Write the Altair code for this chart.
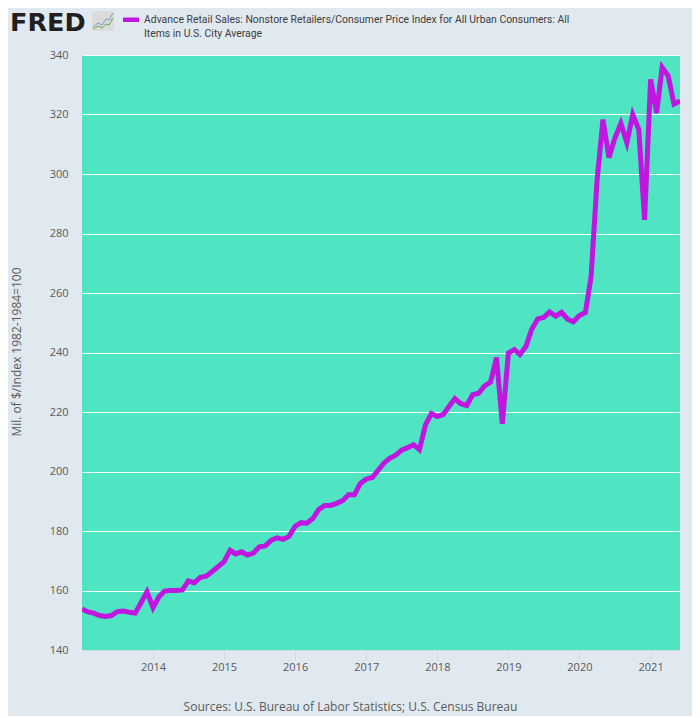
import altair as alt
import pandas as pd

start_date = "2013-01-01"
end_date = "2021-06-01"
values = [
    153.8, 152.8, 152.4, 151.6, 151.3, 151.6, 152.9, 153.1, 152.7, 152.4, 156.0, 159.6,
    154.2, 158.0, 159.8, 160.0, 160.0, 160.2, 163.2, 162.6, 164.4, 164.8, 166.4, 168.0,
    169.7, 173.5, 172.3, 173.0, 171.9, 172.6, 174.7, 175.0, 176.9, 177.7, 177.2, 178.2,
    181.6, 182.8, 182.6, 184.2, 187.2, 188.6, 188.6, 189.3, 190.2, 192.2, 192.2, 196.0,
    197.5, 198.0, 200.3, 202.8, 204.4, 205.5, 207.2, 208.0, 209.0, 207.3, 215.7, 219.5,
    218.5, 219.2, 221.8, 224.5, 222.8, 222.2, 225.8, 226.3, 228.8, 230.0, 238.3, 216.0,
    239.8, 241.0, 239.3, 242.0, 247.8, 251.3, 251.8, 253.6, 252.2, 253.5, 251.2, 250.3,
    252.4, 253.5, 265.5, 298.0, 318.3, 305.5, 312.0, 317.0, 310.5, 320.0, 315.0, 284.6,
    331.8, 320.5, 335.8, 333.0, 323.5, 324.5,
]
x_ticks = ["2014-01-01", "2015-01-01", "2016-01-01", "2017-01-01", "2018-01-01",
           "2019-01-01", "2020-01-01", "2021-01-01"]
y_ticks = [140, 160, 180, 200, 220, 240, 260, 280, 300, 320, 340]
legend_lines = [
    "Advance Retail Sales: Nonstore Retailers/Consumer Price Index for All Urban Consumers: All",
    "Items in U.S. City Average",
]
y_title = "Mil. of $/Index 1982-1984=100"
source = "Sources: U.S. Bureau of Labor Statistics; U.S. Census Bureau"
logo = "FRED"

BG = "#e1e9f0"
PLOT = "#50e5c2"
LINE = "#c115e0"
TXT = "#595959"
W, H = 598, 595

df = pd.DataFrame({"date": pd.date_range(start_date, periods=len(values), freq="MS"), "value": values})

x = alt.X("date:T", scale=alt.Scale(domain=[start_date, end_date], nice=False),
          axis=alt.Axis(title=None, format="%Y", values=[pd.Timestamp(t).isoformat() for t in x_ticks], grid=False,
                        labelColor=TXT, labelFont="Open Sans", labelFontSize=11, labelPadding=2,
                        tickColor="#cfd9ea", tickSize=9, domainColor="#cfd9ea", labelOverlap=False))
y = alt.Y("value:Q", scale=alt.Scale(domain=[140, 340], nice=False, zero=False),
          axis=alt.Axis(title=None, values=y_ticks, grid=True, gridColor="#ffffff", gridWidth=1, gridOpacity=0.95,
                        labelColor=TXT, labelFont="Open Sans", labelFontSize=11, labelPadding=14,
                        ticks=False, domain=False))

line = alt.Chart(df).mark_line(color=LINE, strokeWidth=5, strokeJoin="miter", strokeCap="butt", strokeMiterLimit=4,
                               clip=True).encode(x=x, y=y)

def text(s, px, py, **kw):
    return alt.Chart(pd.DataFrame({"t": [s]})).mark_text(**kw).encode(
        text="t:N", x=alt.value(px), y=alt.value(py))

def box(x0, x1, y0, y1, color, **kw):
    return alt.Chart(pd.DataFrame({"a": [0]})).mark_rect(color=color, **kw).encode(
        x=alt.value(x0), x2=alt.value(x1), y=alt.value(y0), y2=alt.value(y1))

def seg(x0, x1, y0, y1, color):
    return alt.Chart(pd.DataFrame({"a": [0]})).mark_rule(color=color, strokeWidth=1).encode(
        x=alt.value(x0), x2=alt.value(x1), y=alt.value(y0), y2=alt.value(y1))

ox, oy = 82, 55  # page position of the plot's top-left corner
blue = "#7a9cc0"
green = "#6fa84f"
layers = [
    line,
    text(logo, 10 - ox, 31 - oy, font="DejaVu Sans", fontSize=25.5, fontWeight="bold", color="#231f20",
         align="left", baseline="alphabetic"),
    box(92 - ox, 114 - ox, 11 - oy, 31 - oy, "#dadcdc", cornerRadius=2),
    seg(93 - ox, 98 - ox, 27 - oy, 23 - oy, blue), seg(98 - ox, 102 - ox, 23 - oy, 25 - oy, blue),
    seg(102 - ox, 106 - ox, 25 - oy, 19 - oy, blue), seg(106 - ox, 109 - ox, 19 - oy, 20 - oy, blue),
    seg(109 - ox, 113 - ox, 20 - oy, 13 - oy, blue),
    seg(93 - ox, 98 - ox, 29 - oy, 26 - oy, green), seg(98 - ox, 102 - ox, 26 - oy, 28 - oy, green),
    seg(102 - ox, 106 - ox, 28 - oy, 24 - oy, green), seg(106 - ox, 109 - ox, 24 - oy, 25 - oy, green),
    seg(109 - ox, 113 - ox, 25 - oy, 18 - oy, green),
    box(123 - ox, 139 - ox, 17.5 - oy, 22 - oy, LINE),
    text(legend_lines[0], 144 - ox, 23 - oy, font="Roboto", fontSize=10.4, color="#3c3c3c",
         align="left", baseline="alphabetic"),
    text(legend_lines[1], 144 - ox, 37 - oy, font="Roboto", fontSize=10.4, color="#3c3c3c",
         align="left", baseline="alphabetic"),
    text(y_title, 17 - ox, 352 - oy, font="Open Sans", fontSize=12, color=TXT, angle=270, align="center",
         baseline="middle"),
    text(source, 350.5 - ox, 711 - oy, font="Open Sans", fontSize=12, color=TXT, align="center",
         baseline="alphabetic"),
]

chart = alt.layer(*layers).properties(
    width=W, height=H,
    background=BG,
    autosize=alt.AutoSizeParams(type="none"),
    padding={"left": ox - 8, "top": oy - 8, "right": 12, "bottom": 66},
).configure_view(fill=PLOT, stroke=None)

chart.save("out.html", embed_options={"renderer": "svg", "actions": False})
